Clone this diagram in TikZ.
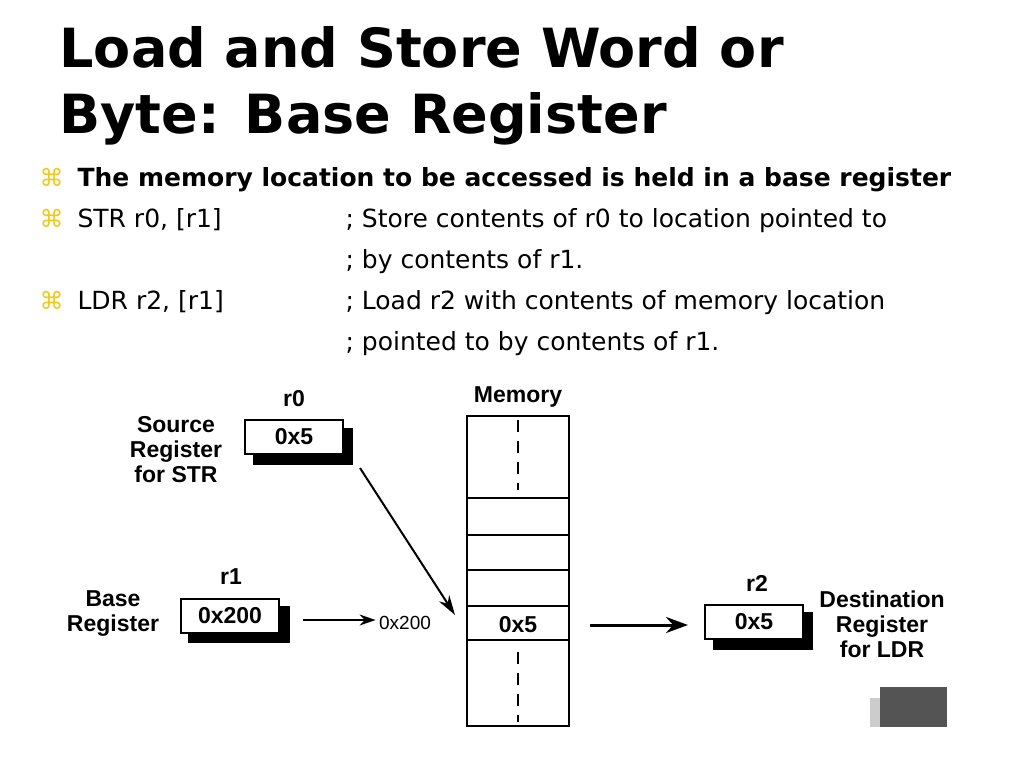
\documentclass[tikz,border=0pt]{standalone}
\usepackage{fontspec}
\setmainfont{DejaVu Sans}
\newfontfamily\diagfont{Liberation Sans}
\usetikzlibrary{arrows.meta}
\definecolor{bulletgold}{RGB}{240,200,30}
\begin{document}
\begin{tikzpicture}[x=1pt,y=-1pt,
    reg/.style={draw,line width=2.5pt,fill=white,minimum width=98pt,minimum height=34pt,
      font=\diagfont\fontsize{23}{23}\bfseries},
    lbl/.style={font=\diagfont\fontsize{23}{25}\bfseries,align=center},
    bul/.style={text=bulletgold,font=\fontsize{24}{24}\selectfont},
    body/.style={anchor=base west,font=\fontsize{25}{25}\selectfont},
    ttl/.style={anchor=base west,font=\fontsize{54}{54}\bfseries\selectfont},
    cell/.style={line width=2.5pt}]
  \useasboundingbox (0,0) rectangle (1024,768);

  % title
  \node[ttl] (title1) at (56,67) {Load and Store Word or};
  \node[ttl] (title2) at (56,133) {Byte: Base Register};

  % bullet lines
  \node[bul,anchor=base west] (b1) at (36,186) {⌘};
  \node[body,font=\fontsize{25}{25}\bfseries] (t1) at (74,186) {The memory location to be accessed is held in a base register};
  \node[bul,anchor=base west] (b2) at (36,227) {⌘};
  \node[body] (t2) at (74,227) {STR r0, [r1]};
  \node[body] (c2) at (342,227) {; Store contents of r0 to location pointed to};
  \node[body] (c3) at (342,268) {; by contents of r1.};
  \node[bul,anchor=base west] (b3) at (36,309) {⌘};
  \node[body] (t3) at (74,309) {LDR r2, [r1]};
  \node[body] (c4) at (342,309) {; Load r2 with contents of memory location};
  \node[body] (c5) at (342,350) {; pointed to by contents of r1.};

  % memory column
  \draw[line width=1.5pt] (467,416) rectangle (569,726);
  \foreach \y in {498,535,570,606,640}
    \draw[cell] (467,\y) -- (569,\y);
  \draw[line width=2.5pt,dash pattern=on 12pt off 9pt] (518,420) -- (518,490);
  \draw[line width=2.5pt,dash pattern=on 12pt off 9pt] (518,652) -- (518,722);
  \node[lbl] (memlbl) at (518,397) {Memory};
  \node[font=\diagfont\fontsize{23}{23}\bfseries] (cell) at (518,625) {0x5};

  % registers with shadow
  \fill (253,428) rectangle (353,465);
  \node[reg] (r0) at (294,437) {0x5};
  \fill (188,606) rectangle (290,643);
  \node[reg] (r1) at (230,616) {0x200};
  \fill (713,612) rectangle (813,650);
  \node[reg] (r2) at (754,622) {0x5};

  \node[lbl] (r0n) at (294,399) {r0};
  \node[lbl] (r1n) at (231,577) {r1};
  \node[lbl] (r2n) at (757,583) {r2};
  \node[lbl] (src) at (176,450) {Source\\Register\\for STR};
  \node[lbl] (base) at (113,614) {Base\\Register};
  \node[lbl] (dst) at (882,624) {Destination\\Register\\for LDR};
  \node[font=\diagfont\fontsize{19}{19}\selectfont] (addr) at (405,623) {0x200};

  % connectors
  \coordinate (sfrom) at (360,468);
  \coordinate (sto) at (455,615);
  \coordinate (afrom) at (303,620);
  \coordinate (lfrom) at (590,625);
  \coordinate (lto) at (688,625);
  \draw[line width=2pt,-{Stealth[length=20pt,width=12pt]}] (sfrom) -- (sto);
  \draw[line width=1.8pt,-{Stealth[length=16pt,width=11pt]}] (afrom) -- (addr.west |- afrom);
  \draw[line width=3pt,-{Stealth[length=22pt,width=16pt]}] (lfrom) -- (lto);

  % corner mark
  \fill[gray!40] (870,698) rectangle (880,727);
  \fill[black!67] (880,687) rectangle (947,727);
\end{tikzpicture}
\end{document}
